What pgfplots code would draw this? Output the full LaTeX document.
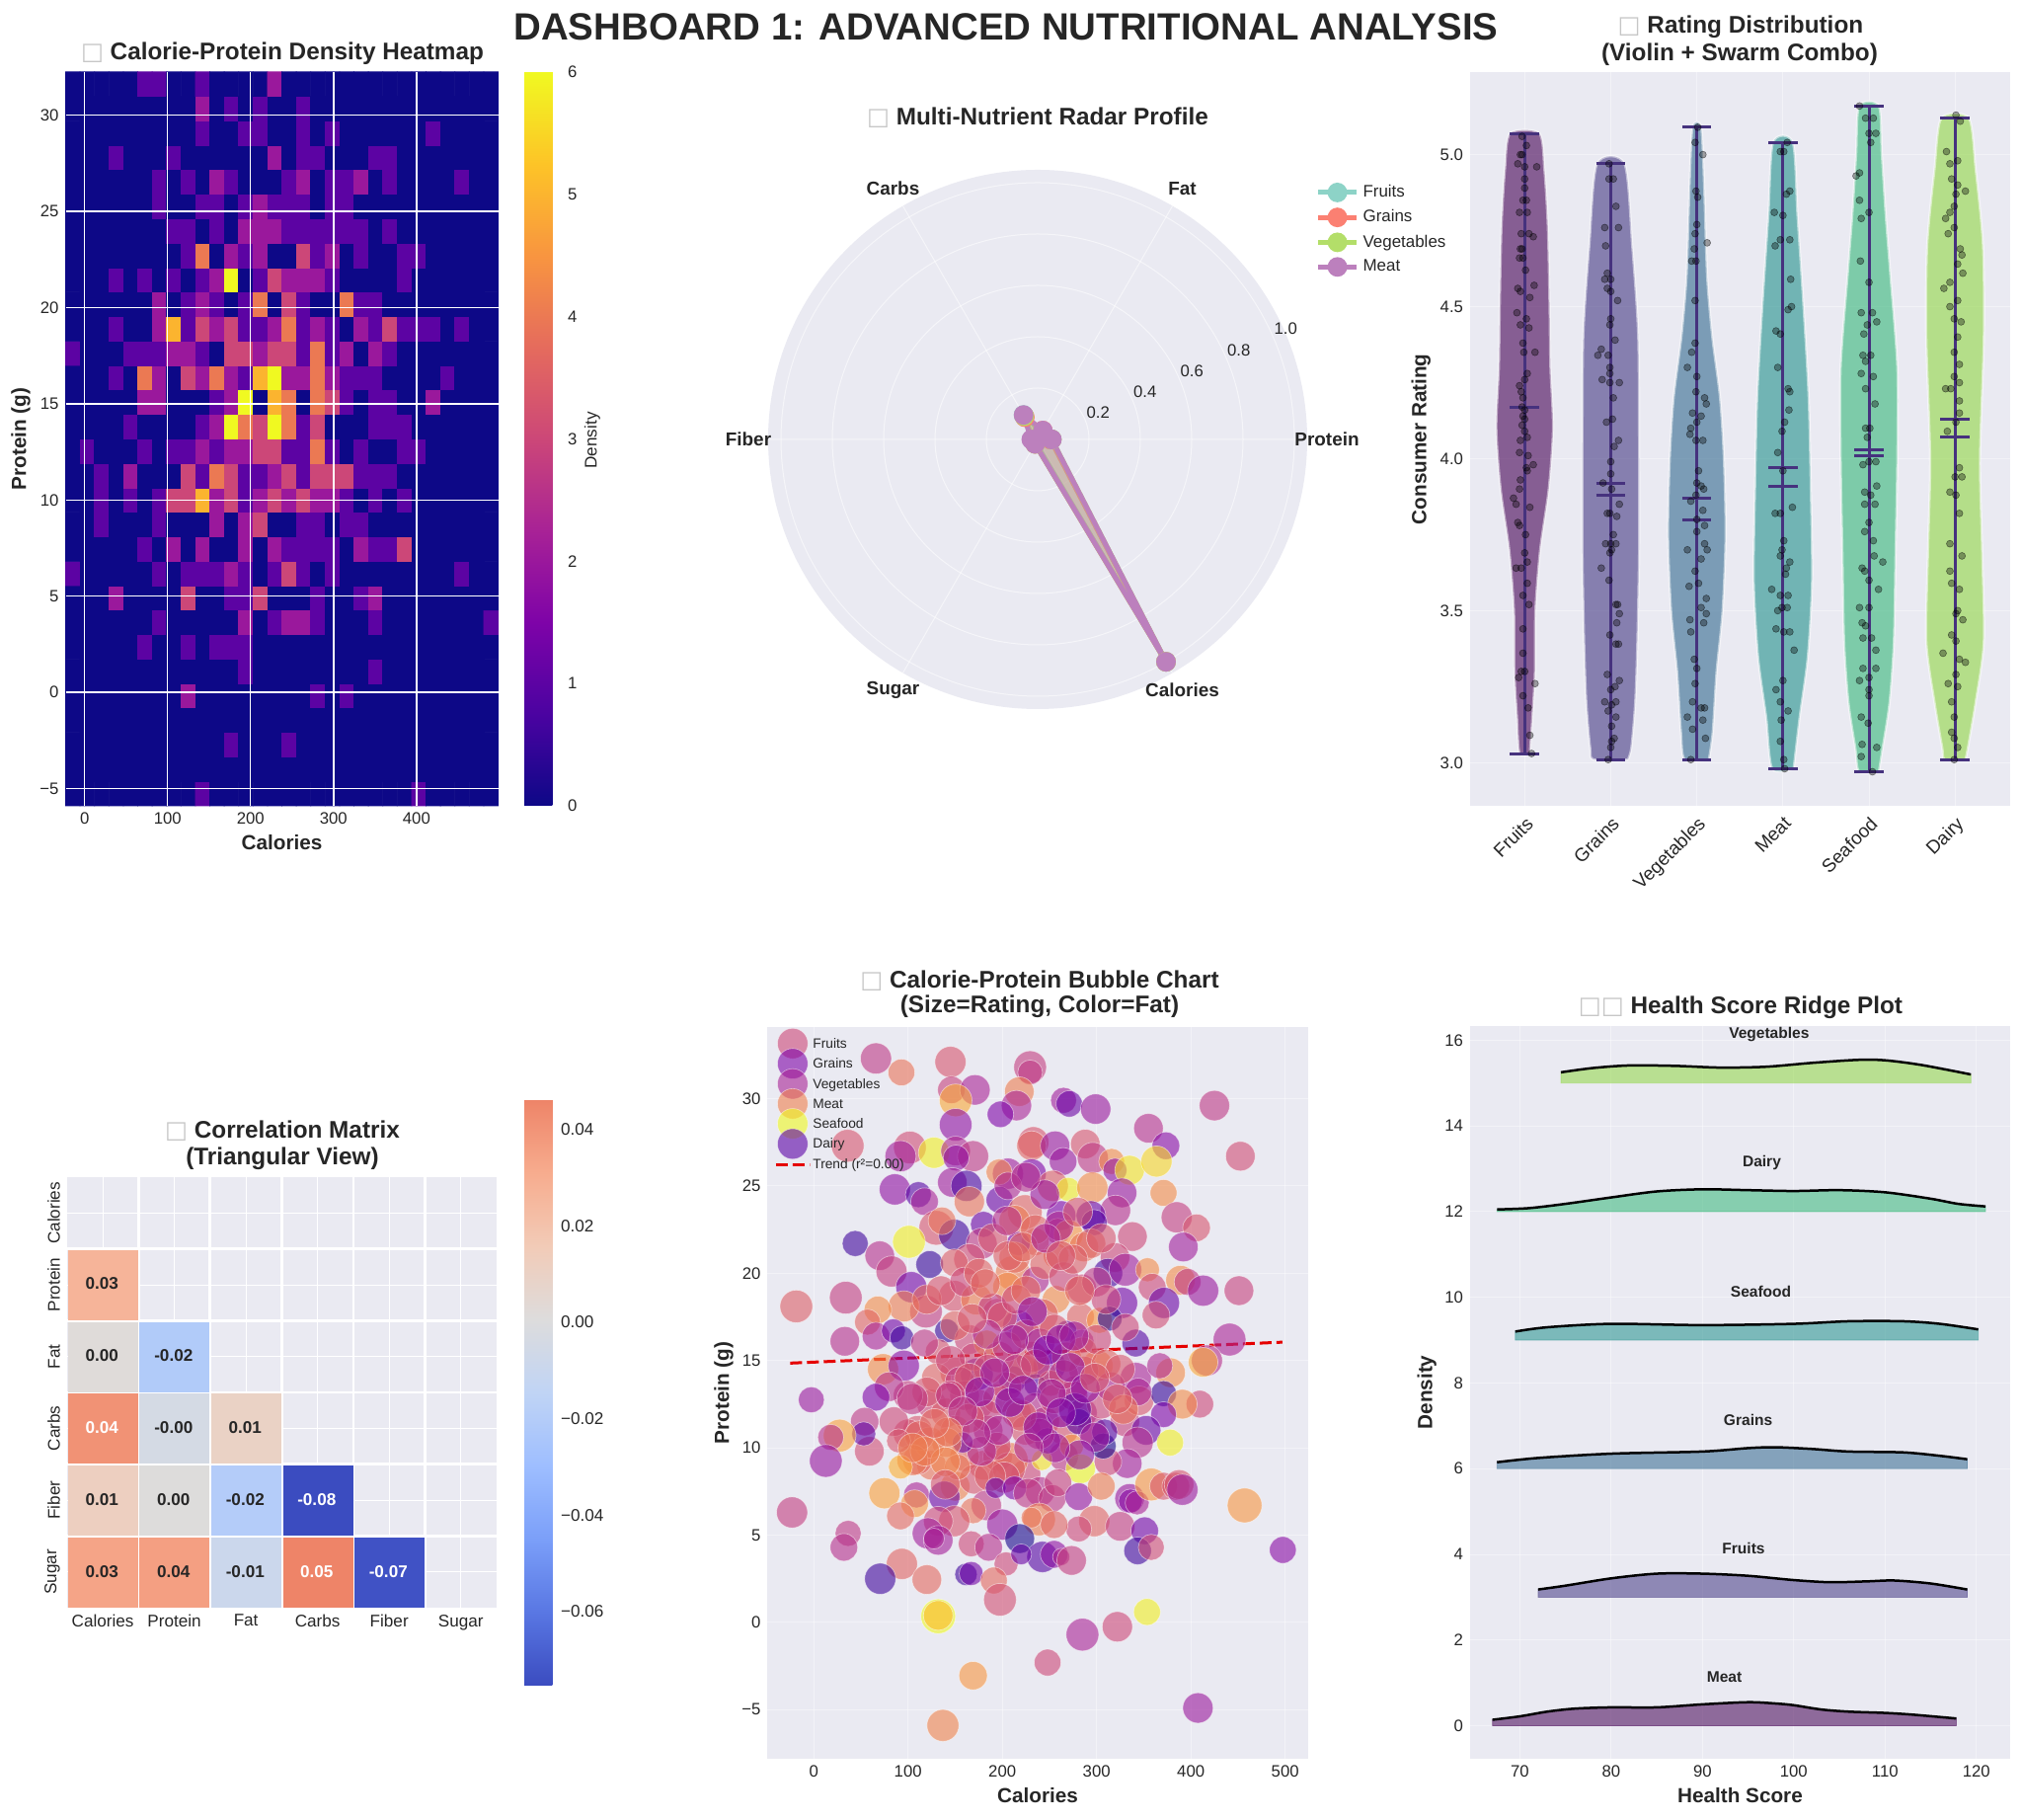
\documentclass[border=0pt]{standalone}
\usepackage{pgfplots}
\usepackage{fontspec}
\pgfplotsset{compat=1.18}
\usepgfplotslibrary{polar}
\setmainfont{Liberation Sans}
\newfontfamily\dv{DejaVu Sans}
\definecolor{tc}{HTML}{262626}
\definecolor{bgc}{HTML}{EAEAF2}
\definecolor{vline}{HTML}{46327E}
\definecolor{v1}{HTML}{440154}
\definecolor{v2}{HTML}{443983}
\definecolor{v3}{HTML}{31688E}
\definecolor{v4}{HTML}{21918C}
\definecolor{v5}{HTML}{35B779}
\definecolor{v6}{HTML}{90D743}
\definecolor{s1}{HTML}{8DD3C7}
\definecolor{s2}{HTML}{FB8072}
\definecolor{s3}{HTML}{B3DE69}
\definecolor{s4}{HTML}{BC80BD}
\definecolor{l1}{RGB}{204,71,120}
\definecolor{l2}{RGB}{126,3,168}
\definecolor{l3}{RGB}{168,34,150}
\definecolor{l4}{RGB}{240,128,78}
\definecolor{l5}{RGB}{240,249,33}
\definecolor{l6}{RGB}{92,1,166}
\newcommand{\fs}[1]{\fontsize{#1}{#1}\selectfont}
\newcommand{\tofu}{{\dv\textcolor{gray!45}{□}}}
\tikzset{
  cn/.style={font=\bfseries\fs{8.6},text=tc},
  cw/.style={font=\bfseries\fs{8.6},text=white},
  rt/.style={font=\bfseries\fs{7.8},text=tc},
  lab/.style={font=\bfseries\fs{10.4},text=tc},
}
\pgfplotsset{
  colormap={plasmaM}{rgb255=(13,8,135) rgb255=(75,3,161) rgb255=(126,3,168) rgb255=(168,34,150) rgb255=(204,71,120) rgb255=(229,107,93) rgb255=(248,149,64) rgb255=(253,196,39) rgb255=(240,249,33)},
  colormap={coolW}{rgb255=(59,76,192) rgb255=(89,119,227) rgb255=(123,159,249) rgb255=(158,190,255) rgb255=(192,212,245) rgb255=(221,220,220) rgb255=(242,203,183) rgb255=(247,172,142) rgb255=(238,132,104)},
  base/.style={
    scale only axis,
    major tick length=0pt, minor tick length=0pt,
    axis line style={draw=none},
    tick label style={font=\fs{8.4},text=tc},
    /pgf/number format/assume math mode=true,
    clip=false,
  },
  dark/.style={
    axis background/.style={fill=bgc},
    grid=major,
    grid style={white,opacity=.4,line width=.5bp},
  },
  lgd/.style={legend image code/.code={\path[overlay,fill=#1,fill opacity=.6,draw=white,draw opacity=.5,line width=.3bp] (.3cm,.1ex) circle (7.7bp);}},
}
\pgfplotstableread{
x y r c
66 32.3 7.9 .45
93 31.5 6.8 .65
145 32.1 7.9 .55
229.5 31.8 8.3 .47
229.5 31.5 6.3 .45
146 30.5 7 .48
171 30.5 7.7 .38
218 30.4 7.5 .68
150.5 29.9 8.3 .8
215 29.6 7.7 .38
198 29.1 6.7 .25
265 29.9 6.6 .35
271 29.7 6.7 .2
299 29.4 7.7 .33
425 29.6 7.7 .45
150.5 28.5 8.3 .3
355 28.3 7.5 .42
373.5 27.3 7 .28
452.5 26.7 7.5 .52
36 27.3 8.3 .55
102 27.2 8.3 .52
92 26.7 7.9 .35
127.5 26.9 7.9 .98
150.5 27 7.5 .4
169 26.7 7.9 .45
151 26.6 6.6 .3
233 27.5 7.9 .55
231 27.3 7.5 .6
256 27.3 7.5 .33
288 27.4 7.5 .55
264.5 26.4 7 .33
296 26.6 7.9 .45
316 26.4 6.6 .72
319.5 25.9 6.1 .3
335 25.9 7.5 .95
363.5 26.4 7.9 .92
206 25.7 7.9 .35
231 25.7 7.5 .25
196.5 25.8 6.6 .7
147 25.2 7.5 .35
162 25 7.9 .12
86 24.8 7.9 .3
111 24.5 6.6 .15
117.5 24.1 7 .38
165 24.1 7.7 .65
197 24.2 6.8 .2
253.5 25 7.9 .58
270 24.8 6.1 .98
295.5 24.9 7.9 .72
327 24.6 7.5 .33
371 24.6 6.8 .72
320 23.6 7.7 .42
224 23.5 8.8 .6
213 23 7.9 .68
206 25 7 .4
262.5 23.3 7.5 .25
294 23.3 7.5 .2
297.5 22.9 6.6 .15
385 23.2 7.9 .47
406 22.6 7 .55
338 22.1 7.5 .5
392 21.5 7.5 .35
130 22.6 8.8 .55
149 22.2 7.9 .1
180 22.8 6.6 .2
136 23 7 .65
259 22.4 6.6 .42
270 22.2 7.5 .75
235 21.8 7 .6
217 21.7 6.1 .25
101 21.8 8.3 .98
44 21.7 6.6 .1
70 21 7.5 .42
82.5 20.1 7.9 .47
123 20.5 7 .08
178 21.7 7.9 .45
165 20.8 7.9 .52
149 20.6 7 .58
286.5 21.5 7.5 .65
294 21.7 7.5 .6
257 21 6.6 .65
211 20 8.8 .68
213 20.9 7.9 .62
319.5 20.9 7.5 .5
312 20 7.5 .12
330.5 20.2 8.3 .35
354 20.2 6.1 .72
389 19.6 7.5 .72
396.5 19.5 6.8 .45
413 19 7.9 .33
451 19 7.5 .48
-18.5 18.1 8.3 .58
34 18.6 8.3 .47
103.5 19.2 7.9 .22
149 18.7 7.9 .55
172.5 18.5 7.9 .68
205.5 19.2 7.5 .72
235 19.6 7 .4
257 18.5 7 .72
284.5 19.1 7.5 .5
327 18.3 7.9 .22
359 19.2 7 .5
371.5 18.3 7.9 .2
363 17.6 7 .52
242 17.6 8.3 .58
217 17 7.9 .25
119 17.8 8.3 .47
95.5 18.1 7.9 .68
68 17.9 7 .72
57 17.2 6.6 .6
66 16.4 7 .38
84.5 16.7 6.1 .22
93.5 16.3 6.1 .1
33 16.1 7.5 .42
141 16.7 6.1 .08
165 16.2 7.5 .5
183.5 16 6.6 .82
194.5 17.7 7.5 .55
283 17.5 7 .6
268 16.7 5.3 .15
284.5 16.1 6.1 .4
303 17.3 6.6 .75
314 17.4 6.3 .05
341.5 16 7 .15
330.5 16.9 7 .5
441 16.2 8.3 .38
73.5 14.5 7.9 .72
95.5 14.7 7.9 .28
417 15 7.9 .42
413 14.9 7.5 .8
301 14.7 7.9 .7
286.5 14.4 7.5 .5
250 14.7 8.3 .22
378.5 14.3 7.5 .72
341.5 14 7.9 .38
367 14.7 6.6 .4
173 14.2 8.3 .2
150.5 14.3 7.9 .55
211 13.9 7 .2
222 14.5 7.5 .7
169 15.2 7 .5
196.5 15.2 7.9 .5
231 15.2 7.9 .55
268 15.2 7.5 .58
132 15.5 6.6 .55
117.5 16 7 .45
277 13.4 6.6 .45
235 13.6 5.7 .15
251.5 13.7 6.6 .55
110 11 7.5 .55
125 12.5 7.5 .5
140 12 7.5 .58
150 11 7.5 .6
160 13 7.5 .45
175 12.5 7.5 .5
185 11 7.5 .45
195 12.8 7.5 .55
205 13.5 7.5 .48
215 12 7.5 .5
225 11 7.5 .55
235 12.3 7.5 .42
245 11.5 7.5 .45
255 12.8 7.5 .5
265 11 7.5 .55
275 13 7.5 .42
285 12 7.5 .38
295 11 7.5 .45
305 12.5 7.5 .5
315 13.5 7.5 .4
130 14 7.5 .6
145 15 7.5 .5
155 13.8 7.5 .45
185 14.5 7.5 .52
205 15.8 7.5 .45
225 16.5 7.5 .55
240 16 7.5 .35
255 16.8 7.5 .55
285 15.5 7.5 .6
300 16.2 7.5 .5
120 18.5 7.5 .62
135 19 7.5 .55
160 19.5 7.5 .5
175 20 7.5 .6
190 18 7.5 .45
200 17.5 7.5 .55
215 18.5 7.5 .5
225 19 7.5 .62
245 20.5 7.5 .6
265 19.8 7.5 .5
275 20.8 7.5 .58
300 19.5 7.5 .45
310 18.5 7.5 .5
190 22 7.5 .55
205 23 7.5 .42
235 22.5 7.5 .6
245 24.5 7.5 .33
260 22.7 7.5 .4
280 23.5 7.5 .55
180 9 7.5 .6
195 9.5 7.5 .58
160 9.5 7.5 .62
225 8.5 7.5 .5
240 7.5 7.5 .42
265 9.5 7.5 .45
150 7.8 7.5 .7
170 8.2 7.5 .55
125 9 7.5 .65
110 9.3 7.5 .6
100 10.8 7.5 .55
215 14.5 7.5 .45
235 14.8 7.5 .5
265 14.2 7.5 .48
165 14 7.5 .55
145 13 7.5 .5
120 13.2 7.5 .55
100 13 7.5 .47
80 13.5 7.5 .42
85 11.5 7.5 .5
310 14.8 7.5 .6
325 14.5 7.5 .55
330 11.5 7.5 .48
345 12.7 7.5 .55
305 22 7.5 .55
225 25.5 7.5 .42
-2.6 12.75 6.6 .33
66 12.9 7 .25
104.6 12.8 7.9 .45
143 13 6.6 .45
371 13.1 6.6 .08
344 13.2 7 .38
409.5 12.5 7 .5
391 12.5 7.5 .72
328.5 12.2 7.5 .65
371 11.9 6.6 .25
352.5 11 7.5 .2
343.5 10.3 7.9 .42
378 10.3 6.8 .98
332.5 9.1 7.5 .36
312 9.2 7 .5
307 10.1 6.6 .02
308.5 10.9 6.6 .15
281 11.5 6.6 .15
277 12.2 8.3 .18
273.5 10.1 6.1 .75
283 8.8 7.5 1
242 9.3 5.3 .95
248 10.4 6.6 .22
239 10.8 7.9 .42
209 9.3 8.8 .68
207 8.8 8.3 .58
202 8.3 7.9 .52
187 8.4 7.9 .58
194.5 10.1 7 .5
178 9.8 7.5 .4
183.5 11.85 7.9 .47
165 11.7 7.5 .55
220 11.85 7.9 .58
158 10.3 5.3 .2
141 10.3 7.5 .68
123 10.3 7.9 .66
112 10.7 7.5 .6
104.6 9.3 7.9 .66
90 10.4 6.1 .55
152.5 8.9 6.6 .66
139.5 9.2 7.5 .7
92 8.9 6.1 .82
59 9.8 7.5 .52
54 11.5 7.2 .45
53 10.8 6.1 .18
27.5 10.7 8.3 .78
18 10.6 6.6 .42
12.8 9.25 8.3 .32
75 7.4 7.9 .78
109 7.3 6.6 .38
138.5 7.2 7.9 .2
107 6.8 7 .75
139.5 7.9 7.5 .55
92 6.1 7 .62
183 6.7 7.7 .45
169 6.4 6.6 .65
193 7.7 5.3 .2
213 7.7 6.1 .25
227.5 7.4 7.5 .45
253 7.1 7 .45
259 8 7 .48
281 7.2 7 .32
305 7.8 7 .68
335 7.1 7.5 .33
336 6.95 6.1 .28
343 6.85 6.1 .38
358 7.9 8.3 .75
371 7.8 7 .55
384 7.8 7 .55
387.5 7.9 7.5 .55
391 7.6 7.9 .33
457 6.7 8.8 .75
-23 6.3 7.9 .47
36.5 5.1 6.6 .45
32 4.3 7 .42
297.5 5.8 7.9 .6
281 5.35 6.6 .5
325 5.5 7.5 .47
351 5.25 7 .22
343.5 4.1 7 .1
358 4.3 6.6 .52
497.5 4.15 6.8 .28
239 5.9 8.3 .68
231 6 5.3 .65
255 5.6 7 .6
200 5.6 7.9 .32
218.5 4.8 7.5 .02
149 5.8 7.9 .55
132 5.8 7.5 .5
121 5.1 7.9 .35
132 4.7 7.5 .36
127.5 4.8 5.3 .38
167 4.5 6.6 .5
185.5 4.3 7 .42
242.5 3.75 7.9 .15
255 3.9 7 .3
262.5 3.75 4.4 .4
273.5 3.55 7.5 .47
204 3.35 6.1 .5
220 3.9 5.3 .2
93.5 3.35 7.9 .6
120 2.45 7.5 .62
70.5 2.5 7.9 .1
161.5 2.75 5.7 .1
167 2.8 6.1 .22
191 2.4 6.8 .62
197.5 1.3 8.3 .53
132 .35 8.8 1
132 .4 7.5 .85
353.5 .6 6.8 .98
322 -.25 7.7 .5
285 -.7 8.3 .38
248 -2.3 6.8 .5
169 -3.05 7.2 .75
407.5 -4.9 7.7 .33
137 -5.9 8.1 .7
176 13.2 7.5 .3
192 14.3 7.5 .35
208 12.6 7.5 .25
222 13.3 7.5 .32
238 11.2 7.5 .3
252 13.1 7.5 .35
262 12 7.5 .28
272 14.6 7.5 .32
288 13.4 7.5 .3
298 10.6 7.5 .35
282 9.6 7.5 .3
256 10 7.5 .35
228 10 7.5 .4
196 11 7.5 .38
172 10.8 7.5 .4
158 12.1 7.5 .42
142 10.9 7.5 .65
128 11.4 7.5 .62
118 9.8 7.5 .68
105 10 7.5 .68
184 16.5 7.5 .4
212 16.2 7.5 .35
232 17.8 7.5 .3
248 15.6 7.5 .25
262 16.2 7.5 .3
276 16.4 7.5 .35
298 14 7.5 .55
322 12.8 7.5 .58
150 17 7.5 .6
168 17.4 7.5 .55
182 19.4 7.5 .6
206 21 7.5 .58
222 21.5 7.5 .62
246 22 7.5 .38
262 21 7.5 .55
282 19 7.5 .6
}\bubbles
\begin{document}
\begin{tikzpicture}
\path[use as bounding box] (0,0) rectangle (1024bp,921.5bp);

% ---- heatmap
\begin{axis}[base, at={(33.25bp,513.5bp)}, anchor=south west, width=219bp, height=371.5bp,
  xmin=-22.8, xmax=498.3, ymin=-5.9, ymax=32.25,
  xtick={0,100,200,300,400}, ytick={-5,0,5,10,15,20,25,30}, yticklabels={−5,0,5,10,15,20,25,30},
  axis on top, grid=major, grid style={white,line width=.7bp},
  xlabel={Calories}, ylabel={Protein (g)},
  every axis x label/.style={at={(axis description cs:.5,-.05)},anchor=center,lab},
  every axis y label/.style={at={(axis description cs:-.104,.5)},anchor=center,rotate=90,lab},
  colormap name=plasmaM, point meta min=0, point meta max=6,
  colorbar, colorbar style={at={(1.0605,1)},anchor=north west,width=18.5bp,
    major tick length=0pt, axis line style={draw=none},
    ytick={0,1,2,3,4,5,6}, tick label style={font=\fs{8.4},text=tc},
    /pgf/number format/assume math mode=true},
  ]
\addplot[matrix plot*, mesh/cols=30, point meta=explicit] table[row sep=\\, header=false,
  x expr={-22.8+17.37*(mod(\coordindex,30)+.5)}, y expr={-5.9+1.272*(floor((\coordindex+.5)/30)+.5)}, meta index=0] {
0\\0\\0\\0\\0\\0\\0\\0\\0\\1\\0\\0\\0\\0\\0\\0\\0\\0\\0\\0\\0\\0\\0\\0\\1\\0\\0\\0\\0\\0\\
0\\0\\0\\0\\0\\0\\0\\0\\0\\0\\0\\0\\0\\0\\0\\0\\0\\0\\0\\0\\0\\0\\0\\0\\0\\0\\0\\0\\0\\0\\
0\\0\\0\\0\\0\\0\\0\\0\\0\\0\\0\\1\\0\\0\\0\\1\\0\\0\\0\\0\\0\\0\\0\\0\\0\\0\\0\\0\\0\\0\\
0\\0\\0\\0\\0\\0\\0\\0\\0\\0\\0\\0\\0\\0\\0\\0\\0\\0\\0\\0\\0\\0\\0\\0\\0\\0\\0\\0\\0\\0\\
0\\0\\0\\0\\0\\0\\0\\0\\2\\0\\0\\0\\0\\0\\0\\0\\0\\1\\0\\1\\0\\0\\0\\0\\0\\0\\0\\0\\0\\0\\
0\\0\\0\\0\\0\\0\\0\\0\\0\\0\\0\\0\\1\\0\\0\\0\\0\\0\\0\\0\\0\\1\\0\\0\\0\\0\\0\\0\\0\\0\\
0\\0\\0\\0\\0\\1\\0\\0\\1\\0\\1\\1\\1\\0\\0\\0\\0\\0\\0\\0\\0\\0\\0\\0\\0\\0\\0\\0\\0\\0\\
0\\0\\0\\0\\0\\0\\1\\0\\0\\0\\0\\0\\2\\0\\1\\2\\2\\1\\0\\0\\0\\1\\0\\0\\0\\0\\0\\0\\0\\1\\
0\\0\\0\\2\\0\\0\\0\\0\\3\\0\\0\\1\\1\\3\\0\\0\\0\\1\\0\\0\\1\\2\\0\\0\\0\\0\\0\\0\\0\\0\\
1\\0\\0\\0\\0\\0\\1\\0\\1\\1\\1\\2\\1\\0\\1\\3\\1\\0\\1\\0\\0\\0\\0\\0\\0\\0\\0\\1\\0\\0\\
0\\0\\0\\0\\0\\1\\0\\2\\0\\2\\0\\0\\2\\0\\2\\1\\1\\1\\1\\0\\2\\1\\1\\3\\0\\0\\0\\0\\0\\0\\
0\\0\\1\\0\\0\\0\\1\\0\\0\\0\\2\\0\\2\\3\\0\\0\\1\\1\\0\\1\\1\\0\\0\\0\\0\\0\\0\\0\\0\\0\\
0\\0\\1\\0\\1\\0\\1\\3\\3\\5\\2\\3\\1\\2\\3\\2\\3\\2\\2\\1\\0\\1\\0\\1\\0\\0\\0\\0\\0\\0\\
0\\0\\1\\0\\2\\0\\0\\0\\3\\1\\4\\3\\1\\1\\2\\3\\1\\3\\3\\3\\1\\1\\1\\0\\0\\0\\0\\0\\0\\0\\
0\\1\\0\\0\\0\\1\\0\\1\\1\\2\\1\\2\\2\\3\\3\\1\\1\\4\\1\\0\\1\\0\\0\\1\\1\\0\\0\\0\\0\\0\\
0\\0\\0\\0\\1\\0\\0\\0\\0\\1\\2\\6\\4\\3\\6\\4\\1\\3\\0\\0\\0\\1\\1\\1\\0\\0\\0\\0\\0\\0\\
0\\0\\0\\0\\0\\2\\2\\0\\0\\0\\1\\2\\6\\0\\5\\4\\0\\4\\3\\1\\0\\1\\1\\0\\0\\2\\0\\0\\0\\0\\
0\\0\\0\\1\\0\\4\\2\\0\\3\\2\\4\\2\\1\\5\\6\\2\\2\\4\\2\\1\\1\\1\\0\\0\\0\\0\\1\\0\\0\\0\\
1\\0\\0\\0\\1\\1\\1\\2\\2\\1\\0\\3\\3\\2\\3\\3\\1\\4\\1\\2\\0\\2\\1\\0\\0\\0\\0\\0\\0\\0\\
0\\0\\0\\1\\0\\0\\2\\5\\1\\3\\2\\3\\1\\1\\2\\4\\1\\2\\1\\0\\2\\1\\3\\1\\1\\1\\0\\1\\0\\0\\
0\\0\\0\\0\\0\\0\\2\\0\\1\\2\\1\\0\\1\\4\\0\\3\\1\\0\\0\\4\\1\\1\\0\\0\\0\\0\\0\\0\\0\\0\\
0\\0\\0\\1\\0\\1\\0\\1\\0\\1\\2\\6\\0\\1\\3\\2\\2\\2\\1\\0\\0\\0\\0\\1\\0\\0\\0\\0\\0\\0\\
0\\0\\0\\0\\0\\0\\0\\0\\1\\4\\0\\2\\1\\2\\0\\0\\3\\1\\2\\0\\1\\0\\0\\1\\1\\0\\0\\0\\0\\0\\
0\\0\\0\\0\\0\\0\\0\\1\\1\\0\\1\\0\\2\\2\\2\\1\\1\\1\\1\\1\\1\\0\\1\\0\\0\\0\\0\\0\\0\\0\\
0\\0\\0\\0\\0\\0\\1\\0\\0\\1\\1\\0\\1\\2\\1\\1\\1\\0\\1\\1\\0\\0\\0\\0\\0\\0\\0\\0\\0\\0\\
0\\0\\0\\0\\0\\0\\1\\0\\1\\0\\2\\1\\0\\0\\0\\1\\2\\0\\1\\1\\2\\0\\1\\0\\0\\0\\0\\1\\0\\0\\
0\\0\\0\\1\\0\\0\\0\\1\\0\\0\\0\\0\\0\\0\\2\\0\\1\\1\\0\\0\\0\\1\\1\\0\\0\\0\\0\\0\\0\\0\\
0\\0\\0\\0\\0\\0\\0\\0\\0\\1\\0\\0\\1\\1\\0\\0\\1\\0\\1\\0\\0\\0\\0\\0\\0\\1\\0\\0\\0\\0\\
0\\0\\0\\0\\0\\0\\0\\0\\0\\2\\0\\1\\0\\1\\0\\0\\1\\0\\0\\0\\0\\0\\0\\0\\0\\0\\0\\0\\0\\0\\
0\\0\\0\\0\\0\\1\\1\\0\\0\\1\\0\\0\\0\\0\\2\\0\\0\\0\\0\\0\\0\\0\\0\\0\\0\\0\\0\\0\\0\\0\\
};
\end{axis}

% ---- radar
\begin{polaraxis}[scale only axis, at={(525.5bp,699bp)}, anchor=center, width=273bp, height=273bp,
  ymin=0, ymax=1.05, xtick={0,60,120,180,240,300}, ytick={.2,.4,.6,.8,1},
  xticklabels={}, yticklabels={}, major tick length=0pt,
  axis line style={draw=none}, clip=false,
  axis background/.style={fill=bgc},
  grid=major, grid style={white,opacity=.55,line width=.5bp},
  legend style={at={(1.015,.98)},anchor=north west,draw=none,fill=none,font=\fs{8.5},text=tc,
    row sep=1bp, inner sep=0pt},
  legend cell align=left,
  legend image code/.code={\draw[mark repeat=2,mark phase=2,#1] plot coordinates {(0bp,0bp)(9.75bp,0bp)(19.5bp,0bp)};},
  ]
\addplot[fill=s1,fill opacity=.25,draw=s1,draw opacity=1,line width=2.5bp,mark=*,mark size=3.7bp,mark options={fill=s1,draw=s1,fill opacity=1}] coordinates {(0,.05)(60,.035)(120,.11)(180,.02)(240,.015)(300,1)(360,.05)};
\addplot[fill=s2,fill opacity=.25,draw=s2,draw opacity=1,line width=2.5bp,mark=*,mark size=3.7bp,mark options={fill=s2,draw=s2,fill opacity=1}] coordinates {(0,.05)(60,.04)(120,.10)(180,.02)(240,.02)(300,1)(360,.05)};
\addplot[fill=s3,fill opacity=.25,draw=s3,draw opacity=1,line width=2.5bp,mark=*,mark size=3.7bp,mark options={fill=s3,draw=s3,fill opacity=1}] coordinates {(0,.055)(60,.035)(120,.105)(180,.02)(240,.02)(300,1)(360,.055)};
\addplot[fill=s4,fill opacity=.25,draw=s4,draw opacity=1,line width=2.5bp,mark=*,mark size=3.7bp,mark options={fill=s4,draw=s4,fill opacity=1}] coordinates {(0,.055)(60,.04)(120,.11)(180,.025)(240,.02)(300,1)(360,.055)};
\legend{Fruits,Grains,Vegetables,Meat}
\node[font=\bfseries\fs{9.5},text=tc] at (axis cs:0,1.127) {Protein};
\node[font=\bfseries\fs{9.5},text=tc] at (axis cs:60,1.127) {Fat};
\node[font=\bfseries\fs{9.5},text=tc] at (axis cs:120,1.127) {Carbs};
\node[font=\bfseries\fs{9.5},text=tc] at (axis cs:180,1.127) {Fiber};
\node[font=\bfseries\fs{9.5},text=tc] at (axis cs:240,1.127) {Sugar};
\node[font=\bfseries\fs{9.5},text=tc] at (axis cs:300,1.127) {Calories};
\node[font=\fs{8.4},text=tc] at (axis cs:24,.258) {0.2};
\node[font=\fs{8.4},text=tc] at (axis cs:24,.458) {0.4};
\node[font=\fs{8.4},text=tc] at (axis cs:24,.658) {0.6};
\node[font=\fs{8.4},text=tc] at (axis cs:24,.858) {0.8};
\node[font=\fs{8.4},text=tc] at (axis cs:24,1.058) {1.0};
\end{polaraxis}

% ---- violin
\begin{axis}[base, dark, at={(744.5bp,513.5bp)}, anchor=south west, width=273.5bp, height=371.25bp,
  xmin=.366, xmax=6.64, ymin=2.858, ymax=5.27,
  xtick={1,2,3,4,5,6}, xticklabels={Fruits,Grains,Vegetables,Meat,Seafood,Dairy},
  xticklabel style={rotate=45,anchor=north east,font=\fs{9.5},text=tc},
  ytick={3,3.5,4,4.5,5}, yticklabels={3.0,3.5,4.0,4.5,5.0},
  ylabel={Consumer Rating},
  every axis y label/.style={at={(axis description cs:-.091,.5)},anchor=center,rotate=90,lab},
  unbounded coords=jump,
  vfill/.style={smooth,tension=.45,fill=#1,fill opacity=.6,draw=white,draw opacity=.5,line width=1.2bp},
  sw/.style={only marks,mark=*,mark size=1.75bp,mark options={fill=black,fill opacity=.35,draw=black,draw opacity=.45,line width=.3bp}},
  vl/.style={vline,line width=1.5bp},
  ]
\addplot[vfill=v1] coordinates {(1.06,3.03)(1.09,3.15)(1.12,3.3)(1.125,3.5)(1.18,3.7)(1.28,3.9)(1.33,4.1)(1.30,4.3)(1.29,4.5)(1.27,4.76)(1.23,4.95)(1.17,5.07)(.83,5.07)(.77,4.95)(.73,4.76)(.71,4.5)(.70,4.3)(.67,4.1)(.72,3.9)(.82,3.7)(.875,3.5)(.88,3.3)(.91,3.15)(.94,3.03)(1.06,3.03)};
\addplot[vfill=v2] coordinates {(2.2,3.01)(2.24,3.05)(2.285,3.2)(2.31,3.4)(2.33,3.7)(2.33,4)(2.32,4.4)(2.25,4.7)(2.16,4.97)(1.84,4.97)(1.75,4.7)(1.68,4.4)(1.67,4)(1.67,3.7)(1.69,3.4)(1.715,3.2)(1.76,3.05)(1.8,3.01)(2.2,3.01)};
\addplot[vfill=v3] coordinates {(3.14,3.01)(3.185,3.1)(3.23,3.3)(3.3,3.5)(3.335,3.75)(3.315,4)(3.27,4.2)(3.18,4.4)(3.12,4.6)(3.085,4.9)(3.05,5.09)(2.95,5.09)(2.915,4.9)(2.88,4.6)(2.82,4.4)(2.73,4.2)(2.685,4)(2.665,3.75)(2.7,3.5)(2.77,3.3)(2.815,3.1)(2.86,3.01)(3.14,3.01)};
\addplot[vfill=v4] coordinates {(4.125,2.98)(4.195,3.15)(4.29,3.35)(4.34,3.6)(4.325,3.9)(4.3,4.2)(4.24,4.5)(4.17,4.8)(4.115,5.04)(3.885,5.04)(3.83,4.8)(3.76,4.5)(3.7,4.2)(3.675,3.9)(3.66,3.6)(3.71,3.35)(3.805,3.15)(3.875,2.98)(4.125,2.98)};
\addplot[vfill=v5] coordinates {(5.115,2.97)(5.16,3.05)(5.24,3.2)(5.29,3.4)(5.31,3.7)(5.33,4)(5.33,4.3)(5.25,4.6)(5.195,4.8)(5.15,5)(5.115,5.16)(4.885,5.16)(4.85,5)(4.805,4.8)(4.75,4.6)(4.67,4.3)(4.67,4)(4.69,3.7)(4.71,3.4)(4.76,3.2)(4.84,3.05)(4.885,2.97)(5.115,2.97)};
\addplot[vfill=v6] coordinates {(6.12,3.01)(6.15,3.05)(6.24,3.2)(6.335,3.4)(6.315,3.7)(6.29,4)(6.335,4.4)(6.325,4.7)(6.24,4.95)(6.16,5.12)(5.84,5.12)(5.76,4.95)(5.675,4.7)(5.665,4.4)(5.71,4)(5.685,3.7)(5.665,3.4)(5.76,3.2)(5.85,3.05)(5.88,3.01)(6.12,3.01)};
\addplot[sw] coordinates {(.97,5.06)(1.02,5.03)(.95,5)(.97,5)(.92,4.97)(1,4.96)(1.14,4.96)(1,4.92)(1,4.89)(.98,4.85)(1.02,4.85)(.94,4.81)(1.03,4.81)(.96,4.74)(1.05,4.74)(1.1,4.73)(.95,4.69)(.97,4.69)(.94,4.66)(.98,4.66)(1.01,4.62)(.92,4.56)(.95,4.55)(1.11,4.57)(1.06,4.53)(.91,4.48)(1.02,4.46)(.95,4.44)(1.05,4.43)(.98,4.38)(.99,4.35)(1.12,4.35)(1.03,4.28)(1,4.26)(.94,4.24)(.96,4.22)(.98,4.2)(.97,4.17)(1,4.16)(.98,4.14)(1,4.13)(.97,4.11)(1,4.09)(1.03,4.07)(.95,4.06)(.94,4.02)(1.04,4.01)(1.1,3.98)(1.02,3.97)(1.03,3.96)(.95,3.93)(.94,3.9)(.87,3.87)(.9,3.85)(1.06,3.84)(.92,3.79)(.94,3.78)(1.01,3.75)(1,3.69)(1.03,3.66)(.9,3.64)(.96,3.64)(1.03,3.59)(.98,3.55)(1.05,3.52)(.98,3.44)(.98,3.36)(.96,3.3)(1,3.3)(.93,3.28)(1.12,3.26)(.98,3.22)(1.04,3.18)(1.06,3.09)(1.08,3.03)};
\addplot[sw] coordinates {(1.98,4.97)(1.98,4.92)(2.03,4.92)(2.06,4.83)(1.93,4.76)(2.09,4.76)(1.94,4.7)(1.96,4.61)(1.93,4.59)(2,4.59)(1.96,4.56)(2,4.55)(2.08,4.52)(2,4.46)(1.99,4.44)(2.05,4.39)(1.89,4.36)(1.85,4.34)(1.97,4.34)(1.99,4.3)(1.99,4.28)(1.9,4.26)(2.1,4.25)(1.99,4.25)(2.03,4.2)(1.95,4.12)(2.02,4.13)(2.09,4.06)(2.04,4.04)(2,3.99)(2,3.95)(1.91,3.92)(2.01,3.9)(2.1,3.85)(1.96,3.82)(1.99,3.82)(2.07,3.81)(2.03,3.75)(1.94,3.72)(2,3.72)(2.06,3.72)(2.01,3.7)(1.99,3.69)(1.89,3.64)(1.98,3.6)(2.06,3.52)(2.08,3.52)(2.1,3.49)(2.07,3.46)(1.99,3.42)(2.06,3.39)(2.09,3.39)(1.96,3.29)(2.1,3.27)(2.05,3.25)(2,3.24)(1.93,3.2)(2.06,3.2)(2.01,3.19)(1.97,3.17)(2.06,3.15)(2.01,3.12)(2.04,3.08)(2.01,3.07)(2,3.05)(1.97,3.01)};
\addplot[sw] coordinates {(3.01,5.09)(2.98,5.04)(3.07,5)(2.99,4.88)(3.01,4.86)(3,4.77)(2.98,4.74)(3.12,4.71)(2.97,4.69)(2.94,4.65)(2.99,4.65)(2.98,4.52)(2.98,4.38)(2.94,4.35)(2.89,4.3)(3,4.27)(2.99,4.22)(3.09,4.2)(3.11,4.18)(2.95,4.15)(3.05,4.14)(3,4.12)(2.93,4.1)(2.92,4.08)(2.99,4.06)(3.07,4.06)(3.02,3.96)(3,3.92)(3.05,3.91)(3.08,3.9)(2.99,3.88)(2.93,3.86)(3.07,3.83)(3,3.8)(3.09,3.78)(3,3.76)(3.09,3.72)(2.89,3.7)(3.12,3.7)(3.05,3.67)(2.98,3.63)(3.02,3.59)(2.91,3.58)(3.11,3.54)(3.05,3.51)(2.92,3.47)(3.11,3.49)(3.08,3.46)(2.93,3.43)(2.97,3.34)(3,3.31)(2.98,3.26)(2.95,3.2)(3.05,3.18)(3.09,3.18)(2.89,3.15)(3.07,3.14)(2.95,3.11)(3.1,3.08)(2.93,3.01)};
\addplot[sw] coordinates {(4.05,5.04)(3.97,5.01)(4.01,5.01)(4.08,4.88)(4.04,4.87)(3.9,4.81)(4,4.8)(4.08,4.72)(3.97,4.72)(3.91,4.7)(4.09,4.59)(4.1,4.5)(4.06,4.49)(3.92,4.42)(3.97,4.41)(3.94,4.3)(4.06,4.23)(4.08,4.22)(4.07,4.16)(4.02,4.12)(3.99,4.09)(3.94,4.02)(4,3.96)(4.11,3.84)(3.91,3.82)(3.97,3.82)(4.01,3.73)(3.99,3.7)(3.97,3.68)(4.08,3.66)(4.04,3.64)(4.03,3.62)(3.87,3.57)(3.97,3.55)(4.06,3.55)(3.99,3.51)(3.94,3.5)(4.05,3.51)(3.92,3.44)(4.01,3.43)(4.08,3.43)(4.13,3.37)(4,3.27)(3.92,3.24)(3.97,3.2)(4.06,3.17)(3.98,3.14)(3.97,3.07)(4.01,3.01)(4.02,2.98)};
\addplot[sw] coordinates {(4.89,5.16)(4.96,5.12)(5.05,5.12)(5,5.07)(5.08,5.07)(5.02,5.04)(4.89,4.94)(4.85,4.93)(4.89,4.85)(5,4.81)(4.91,4.79)(4.9,4.65)(5,4.58)(4.91,4.48)(5.04,4.48)(5.09,4.45)(4.98,4.44)(4.94,4.41)(4.93,4.34)(5.02,4.34)(4.96,4.32)(4.91,4.28)(5.05,4.27)(4.96,4.23)(5.07,4.18)(4.96,4.1)(5.01,4.1)(4.98,4.07)(4.93,3.98)(5,3.99)(5.08,3.99)(5.09,3.91)(4.95,3.89)(5.02,3.88)(4.95,3.85)(5.07,3.85)(5,3.79)(4.95,3.76)(5.05,3.73)(5.06,3.68)(5.16,3.66)(4.92,3.64)(4.95,3.63)(5,3.6)(5.11,3.57)(4.89,3.51)(5,3.51)(4.92,3.46)(4.96,3.45)(5.03,3.41)(4.93,3.41)(5.08,3.37)(4.93,3.31)(5.08,3.31)(5,3.28)(4.89,3.27)(5,3.24)(5,3.22)(4.91,3.15)(4.99,3.13)(4.92,3.06)(5.09,3.05)(4.91,3.02)(5.04,2.97)};
\addplot[sw] coordinates {(6.01,5.13)(6.06,5.11)(5.9,5.01)(5.94,4.97)(6.03,4.98)(5.96,4.92)(6.03,4.9)(6.12,4.88)(6.01,4.87)(5.99,4.83)(5.94,4.81)(5.89,4.79)(5.99,4.76)(5.92,4.74)(6.06,4.69)(6.08,4.67)(6.03,4.64)(6.09,4.61)(5.94,4.58)(5.87,4.56)(6.03,4.52)(5.94,4.5)(5.99,4.46)(6.07,4.45)(6.03,4.4)(5.99,4.35)(6.05,4.31)(5.99,4.27)(6.05,4.25)(5.89,4.23)(5.95,4.23)(6.05,4.19)(6.05,4.15)(6.01,4.12)(5.91,4.09)(6.05,3.97)(6,3.94)(6.08,3.94)(5.94,3.89)(6.01,3.88)(6.05,3.82)(5.94,3.72)(6.08,3.68)(5.94,3.63)(5.96,3.59)(6.05,3.57)(6.03,3.5)(6.01,3.49)(6.09,3.47)(5.96,3.42)(6.01,3.4)(5.86,3.36)(6.05,3.34)(6.12,3.33)(6.01,3.29)(5.92,3.26)(6.03,3.25)(5.96,3.2)(5.99,3.15)(5.96,3.1)(5.99,3.08)(6.03,3.05)(5.99,3.01)};
\addplot[vl] coordinates {(1,3.03)(1,5.07)(1,nan)(.83,3.03)(1.17,3.03)(1,nan)(.83,5.07)(1.17,5.07)(1,nan)(.83,4.17)(1.17,4.17)};
\addplot[vl] coordinates {(2,3.01)(2,4.97)(2,nan)(1.83,3.01)(2.17,3.01)(2,nan)(1.83,4.97)(2.17,4.97)(2,nan)(1.83,3.92)(2.17,3.92)(2,nan)(1.83,3.88)(2.17,3.88)};
\addplot[vl] coordinates {(3,3.01)(3,5.09)(3,nan)(2.83,3.01)(3.17,3.01)(3,nan)(2.83,5.09)(3.17,5.09)(3,nan)(2.83,3.87)(3.17,3.87)(3,nan)(2.83,3.8)(3.17,3.8)};
\addplot[vl] coordinates {(4,2.98)(4,5.04)(4,nan)(3.83,2.98)(4.17,2.98)(4,nan)(3.83,5.04)(4.17,5.04)(4,nan)(3.83,3.97)(4.17,3.97)(4,nan)(3.83,3.91)(4.17,3.91)};
\addplot[vl] coordinates {(5,2.97)(5,5.16)(5,nan)(4.83,2.97)(5.17,2.97)(5,nan)(4.83,5.16)(5.17,5.16)(5,nan)(4.83,4.03)(5.17,4.03)(5,nan)(4.83,4.01)(5.17,4.01)};
\addplot[vl] coordinates {(6,3.01)(6,5.12)(6,nan)(5.83,3.01)(6.17,3.01)(6,nan)(5.83,5.12)(6.17,5.12)(6,nan)(5.83,4.13)(6.17,4.13)(6,nan)(5.83,4.07)(6.17,4.07)};
\end{axis}

% ---- correlation
\begin{axis}[base, at={(33.9bp,107.5bp)}, anchor=south west, width=217.6bp, height=218bp,
  xmin=0, xmax=6, ymin=0, ymax=6, y dir=reverse,
  axis background/.style={fill=bgc},
  xtick={.5,1.5,2.5,3.5,4.5,5.5}, ytick={.5,1.5,2.5,3.5,4.5,5.5},
  xticklabels={Calories,Protein,Fat,Carbs,Fiber,Sugar}, yticklabels={Calories,Protein,Fat,Carbs,Fiber,Sugar},
  tick label style={font=\fs{8.6},text=tc},
  yticklabel style={rotate=90,anchor=south},
  minor xtick={1,2,3,4,5}, minor ytick={1,2,3,4,5},
  xmajorgrids, ymajorgrids, xminorgrids, yminorgrids,
  major grid style={white,line width=.5bp}, minor grid style={white,line width=1.4bp},
  colormap name=coolW, point meta min=-.0753, point meta max=.0462,
  colorbar, colorbar style={at={(1.0644,.5)},anchor=west,width=15bp,height=296.5bp,
    major tick length=0pt, axis line style={draw=none},
    ytick={-.06,-.04,-.02,0,.02,.04}, yticklabels={−0.06,−0.04,−0.02,0.00,0.02,0.04},
    scaled y ticks=false,
    tick label style={font=\fs{8.6},text=tc},
    /pgf/number format/assume math mode=true},
  ]
\addplot[scatter, only marks, mark=square*, mark size=17.5bp, scatter src=explicit,
  scatter/use mapped color={draw=mapped color,fill=mapped color,line width=.1bp}] table[x=x,y=y,meta=v] {
x y v
.5 1.5 .027
.5 2.5 .002
1.5 2.5 -.021
.5 3.5 .041
1.5 3.5 -.004
2.5 3.5 .010
.5 4.5 .012
1.5 4.5 .001
2.5 4.5 -.02
3.5 4.5 -.0753
.5 5.5 .034
1.5 5.5 .036
2.5 5.5 -.009
3.5 5.5 .0462
4.5 5.5 -.073
};
\end{axis}

% ---- bubbles
\begin{axis}[base, dark, at={(388.7bp,31bp)}, anchor=south west, width=273.6bp, height=370.5bp,
  xmin=-49, xmax=524, ymin=-7.81, ymax=34.1,
  xtick={0,100,200,300,400,500}, ytick={-5,0,5,10,15,20,25,30}, yticklabels={−5,0,5,10,15,20,25,30},
  xlabel={Calories}, ylabel={Protein (g)},
  every axis x label/.style={at={(axis description cs:.5,-.0507)},anchor=center,lab},
  every axis y label/.style={at={(axis description cs:-.081,.5)},anchor=center,rotate=90,lab},
  colormap name=plasmaM, point meta min=0, point meta max=1,
  legend style={at={(.012,.988)},anchor=north west,draw=none,fill=none,font=\fs{6.9},text=tc,
    row sep=1.75bp, inner sep=0pt, nodes={inner sep=1pt}},
  legend cell align=left,
  ]
\addlegendimage{lgd=l1}
\addlegendimage{lgd=l2}
\addlegendimage{lgd=l3}
\addlegendimage{lgd=l4}
\addlegendimage{lgd=l5}
\addlegendimage{lgd=l6}
\addlegendimage{red!90!black,dash pattern=on 6bp off 2.5bp,line width=1.5bp}
\addplot[forget plot,scatter,only marks,mark=*,scatter src=explicit,
  scatter/use mapped color={fill=mapped color,draw=white,fill opacity=.6,draw opacity=.5,line width=.35bp},
  visualization depends on={\thisrow{r} \as \rr},
  scatter/@pre marker code/.append style={/tikz/mark size=\rr},
  ] table[x=x,y=y,meta=c] {\bubbles};
\addplot[forget plot,red!90!black,dash pattern=on 6bp off 2.5bp,line width=1.5bp] coordinates {(-25,14.85)(497,16.05)};
\legend{Fruits,Grains,Vegetables,Meat,Seafood,Dairy,Trend (r²=0.00)}
\end{axis}

% ---- ridge
\begin{axis}[base, dark, at={(744.5bp,31bp)}, anchor=south west, width=273.5bp, height=371bp,
  xmin=64.55, xmax=123.7, ymin=-.77, ymax=16.33,
  xtick={70,80,90,100,110,120}, ytick={0,2,4,6,8,10,12,14,16},
  xlabel={Health Score}, ylabel={Density},
  every axis x label/.style={at={(axis description cs:.5,-.05)},anchor=center,lab},
  every axis y label/.style={at={(axis description cs:-.08,.5)},anchor=center,rotate=90,lab},
  rf/.style={fill=#1,fill opacity=.55,draw=#1,draw opacity=.5,line width=.4bp},
  rl/.style={black,smooth,line width=1.25bp},
  ]
\addplot[rf=v1] coordinates {(67,0)(67,.14)(70,.22)(73,.33)(76,.40)(80,.43)(85,.43)(90,.50)(95,.55)(98,.52)(100,.48)(103,.38)(106,.33)(110,.30)(113,.26)(117.8,.17)(117.8,0)} -- cycle;
\addplot[rl] coordinates {(67,.14)(70,.22)(73,.33)(76,.40)(80,.43)(85,.43)(90,.50)(95,.55)(98,.52)(100,.48)(103,.38)(106,.33)(110,.30)(113,.26)(117.8,.17)};
\addplot[rf=v2] coordinates {(72,3)(72,3.18)(75,3.27)(80,3.44)(85,3.55)(90,3.55)(95,3.50)(100,3.40)(104,3.35)(108,3.37)(111,3.39)(115,3.32)(119,3.18)(119,3)} -- cycle;
\addplot[rl] coordinates {(72,3.18)(75,3.27)(80,3.44)(85,3.55)(90,3.55)(95,3.50)(100,3.40)(104,3.35)(108,3.37)(111,3.39)(115,3.32)(119,3.18)};
\addplot[rf=v3] coordinates {(67.5,6)(67.5,6.15)(72,6.25)(80,6.35)(90,6.40)(95,6.48)(98,6.50)(102,6.46)(106,6.40)(112,6.38)(116,6.30)(119,6.22)(119,6)} -- cycle;
\addplot[rl] coordinates {(67.5,6.15)(72,6.25)(80,6.35)(90,6.40)(95,6.48)(98,6.50)(102,6.46)(106,6.40)(112,6.38)(116,6.30)(119,6.22)};
\addplot[rf=v4] coordinates {(69.5,9)(69.5,9.2)(73,9.3)(80,9.38)(90,9.35)(100,9.38)(106,9.44)(112,9.44)(116,9.38)(120.2,9.25)(120.2,9)} -- cycle;
\addplot[rl] coordinates {(69.5,9.2)(73,9.3)(80,9.38)(90,9.35)(100,9.38)(106,9.44)(112,9.44)(116,9.38)(120.2,9.25)};
\addplot[rf=v5] coordinates {(67.5,12)(67.5,12.05)(71,12.08)(75,12.18)(80,12.33)(85,12.47)(90,12.52)(95,12.5)(100,12.48)(105,12.5)(110,12.45)(115,12.3)(118,12.18)(121,12.12)(121,12)} -- cycle;
\addplot[rl] coordinates {(67.5,12.05)(71,12.08)(75,12.18)(80,12.33)(85,12.47)(90,12.52)(95,12.5)(100,12.48)(105,12.5)(110,12.45)(115,12.3)(118,12.18)(121,12.12)};
\addplot[rf=v6] coordinates {(74.5,15)(74.5,15.25)(78,15.35)(82,15.41)(87,15.4)(92,15.36)(97,15.38)(102,15.47)(107,15.54)(110,15.53)(114,15.42)(119.4,15.2)(119.4,15)} -- cycle;
\addplot[rl] coordinates {(74.5,15.25)(78,15.35)(82,15.41)(87,15.4)(92,15.36)(97,15.38)(102,15.47)(107,15.54)(110,15.53)(114,15.42)(119.4,15.2)};
\node[rt] at (axis cs:97.3,16.14) {Vegetables};
\node[rt] at (axis cs:96.5,13.13) {Dairy};
\node[rt] at (axis cs:96.4,10.14) {Seafood};
\node[rt] at (axis cs:95,7.14) {Grains};
\node[rt] at (axis cs:94.5,4.14) {Fruits};
\node[rt] at (axis cs:92.4,1.14) {Meat};
\end{axis}

% ---- titles and cell annotations
\begin{scope}[x=.5bp,y=-.5bp,shift={(0,921.5bp)},every node/.style={text=tc,inner sep=0pt}]
\node[font=\bfseries\fs{19.3}] at (1019,27.5) {DASHBOARD 1: ADVANCED NUTRITIONAL ANALYSIS};
\node[font=\bfseries\fs{12.2}] at (286,54.5) {\tofu{} Calorie-Protein Density Heatmap};
\node[font=\bfseries\fs{12.2}] at (1051,119) {\tofu{} Multi-Nutrient Radar Profile};
\node[font=\bfseries\fs{12.2}] at (1763,27.5) {\tofu{} Rating Distribution};
\node[font=\bfseries\fs{12.2}] at (1762,55) {(Violin + Swarm Combo)};
\node[font=\bfseries\fs{12.2}] at (286,1145) {\tofu{} Correlation Matrix};
\node[font=\bfseries\fs{12.2}] at (286,1173) {(Triangular View)};
\node[font=\bfseries\fs{12.2}] at (1053,993) {\tofu{} Calorie-Protein Bubble Chart};
\node[font=\bfseries\fs{12.2}] at (1053,1019.5) {(Size=Rating, Color=Fat)};
\node[font=\bfseries\fs{12.2}] at (1763,1020) {\tofu{}\tofu{} Health Score Ridge Plot};
\node[font=\fs{8.6},rotate=90] at (600,446) {Density};
\node[cn] at (103.3,1300) {0.03};
\node[cn] at (103.3,1373) {0.00};
\node[cn] at (175.8,1373) {-0.02};
\node[cw] at (103.3,1446) {0.04};
\node[cn] at (175.8,1446) {-0.00};
\node[cn] at (248.3,1446) {0.01};
\node[cn] at (103.3,1519) {0.01};
\node[cn] at (175.8,1519) {0.00};
\node[cn] at (248.3,1519) {-0.02};
\node[cw] at (320.8,1519) {-0.08};
\node[cn] at (103.3,1592) {0.03};
\node[cn] at (175.8,1592) {0.04};
\node[cn] at (248.3,1592) {-0.01};
\node[cw] at (320.8,1592) {0.05};
\node[cw] at (393.3,1592) {-0.07};
\end{scope}
\end{tikzpicture}
\end{document}
